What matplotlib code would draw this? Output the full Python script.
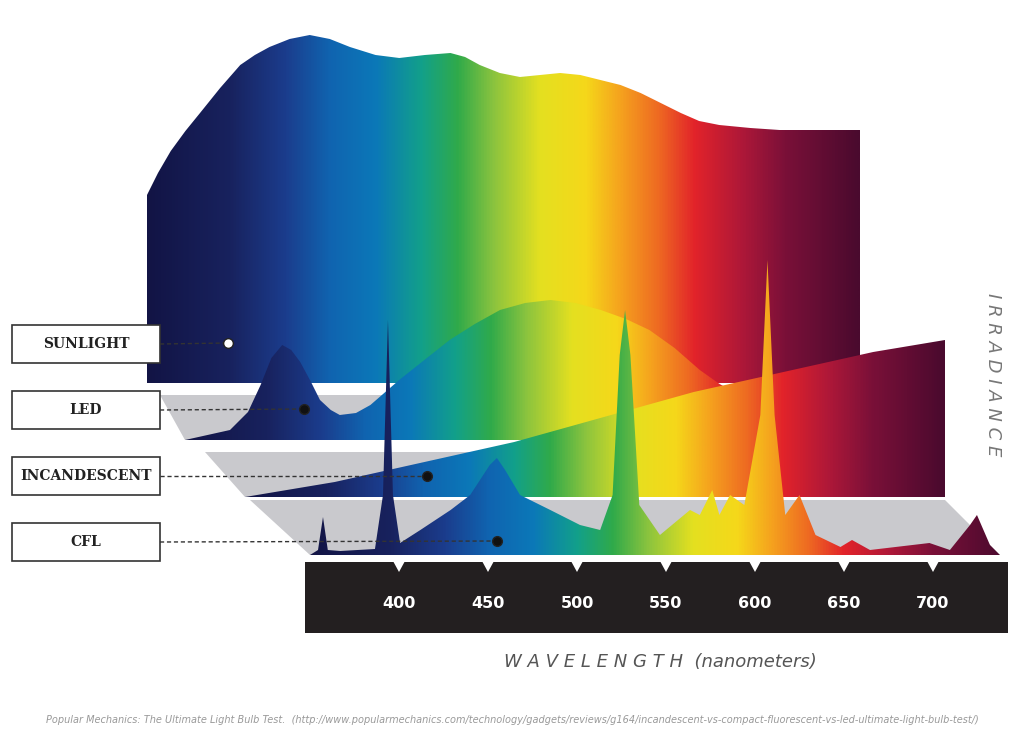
import numpy as np
import matplotlib
matplotlib.use('Agg')
import matplotlib.pyplot as plt
from matplotlib.colors import LinearSegmentedColormap
from matplotlib.patches import Polygon, Rectangle

# ── Data (wavelength nm, relative irradiance in px-height units) ──────────────
SUN_WL = [350, 356, 363, 371, 379, 390, 401, 409, 417, 428, 439, 450, 461, 475, 488, 502, 516,
          524, 532, 543, 554, 565, 576, 587, 598, 609, 620, 631, 642, 652, 663, 680, 696, 740]
SUN_H = [188, 210, 232, 252, 270, 295, 318, 328, 336, 344, 348, 344, 336, 328, 325, 328, 330,
         326, 318, 310, 306, 308, 310, 308, 303, 298, 290, 280, 270, 262, 258, 255, 253, 253]

LED_WL = [350, 375, 385, 392, 398, 404, 409, 414, 420, 425, 431, 436, 445, 453, 469, 483, 497,
          511, 525, 539, 553, 567, 581, 595, 608, 622, 636, 647, 658, 672, 686, 703]
LED_H = [0, 10, 28, 55, 82, 95, 90, 78, 58, 40, 30, 25, 27, 35, 60, 80, 100, 116, 130, 137, 140,
         137, 130, 121, 110, 92, 70, 56, 45, 26, 10, 0]

INC_WL = [350, 400, 450, 500, 550, 600, 650, 700, 740]
INC_H = [0, 15, 35, 55, 80, 105, 125, 145, 157]

CFL_WL = [350, 354.5, 357.3, 360, 367, 386.5, 391, 393.8, 396.6, 400.6, 412, 429, 440, 451,
          455, 459.6, 468, 485, 501.7, 513, 520, 524, 527, 530, 535, 546.6, 563.5, 569,
          576, 580, 586, 594, 603, 607, 611, 617, 625, 634, 648, 654.5, 664.6, 698,
          709.5, 720.8, 724.7, 732, 737.6]
CFL_H = [0, 5, 38, 5, 4, 6, 60, 235, 60, 12, 25, 45, 60, 90, 97, 85, 60, 45, 30, 25, 60,
         200, 245, 200, 50, 20, 45, 40, 65, 40, 60, 50, 140, 295, 140, 40, 60, 20, 8, 15,
         5, 12, 5, 30, 40, 10, 0]

TICKS = [400, 450, 500, 550, 600, 650, 700]
LABELS = ['SUNLIGHT', 'LED', 'INCANDESCENT', 'CFL']

# spectral colour ramp
STOPS = [(350, '#121445'), (395, '#18225e'), (425, '#1b3c8c'), (450, '#1064b0'),
         (475, '#0b78b8'), (500, '#12a08a'), (520, '#30aa4a'), (540, '#8cc43e'),
         (565, '#e4e020'), (590, '#f5d81a'), (610, '#f5a01e'), (630, '#ee6a22'),
         (650, '#e2232a'), (675, '#b01838'), (700, '#7a1038'), (740, '#4a0a2e')]
cmap = LinearSegmentedColormap.from_list(
    'spec', [((w - 350) / 390, c) for w, c in STOPS])

fig = plt.figure(figsize=(10.24, 7.36), dpi=100)
ax = fig.add_axes([0, 0, 1, 1])
ax.set_xlim(0, 1024)
ax.set_ylim(736, 0)
ax.axis('off')

grad = np.linspace(0, 1, 512).reshape(1, -1)


def draw_layer(wl, h, x0, scale, base, z):
    xs = [x0 + (w - 350) * scale for w in wl]
    ys = [base - v for v in h]
    pts = [(xs[0], base)] + list(zip(xs, ys)) + [(xs[-1], base)]
    poly = Polygon(pts, closed=True, facecolor='none', edgecolor='none', zorder=z)
    ax.add_patch(poly)
    x1 = x0 + 390 * scale
    im = ax.imshow(grad, cmap=cmap, aspect='auto', extent=(x0, x1, base, base - 360),
                   zorder=z, interpolation='bilinear')
    im.set_clip_path(poly)


def floor(pts, z):
    ax.add_patch(Polygon(pts, closed=True, facecolor='#c9c9cd', edgecolor='none', zorder=z))


# sunlight (back)
draw_layer(SUN_WL, SUN_H, 147, 713 / 390, 383, 1)
# LED
floor([(160, 395), (830, 395), (885, 440), (185, 440)], 2)
draw_layer(LED_WL, LED_H, 185, 1.8, 440, 3)
# incandescent
floor([(205, 452), (890, 452), (945, 497), (245, 497)], 4)
draw_layer(INC_WL, INC_H, 245, 700 / 390, 497, 5)
# CFL
floor([(250, 500), (945, 500), (1000, 555), (310, 555)], 6)
draw_layer(CFL_WL, CFL_H, 310, 1.78, 555, 7)

# wavelength bar
ax.add_patch(Rectangle((305, 562), 703, 71, facecolor='#231f20', zorder=8))
for t in TICKS:
    x = 310 + (t - 350) * 1.78
    ax.add_patch(Polygon([(x - 6, 561), (x + 6, 561), (x, 572)], closed=True,
                         facecolor='white', edgecolor='none', zorder=9))
    ax.text(x, 603, str(t), color='white', fontsize=11.5, ha='center', va='center',
            fontweight='bold', zorder=9)

ax.text(660, 662, 'W A V E L E N G T H  (nanometers)', fontsize=13, style='italic',
        color='#555555', ha='center', va='center')
ax.text(993, 375, 'I R R A D I A N C E', fontsize=13, style='italic', color='#777777',
        ha='center', va='center', rotation=-90)
ax.text(512, 720, 'Popular Mechanics: The Ultimate Light Bulb Test.  (http://www.popularmechanics.com/'
        'technology/gadgets/reviews/g164/incandescent-vs-compact-fluorescent-vs-led-ultimate-light-bulb-test/)',
        fontsize=7, style='italic', color='#999999', ha='center', va='center')

# labels with leaders
box_y = [344, 410, 476, 542]
dots = [(228, 343, 'white'), (304, 409, '#111111'), (427, 476, '#111111'), (497, 541, '#111111')]
for lab, y, (dx, dy, dc) in zip(LABELS, box_y, dots):
    ax.add_patch(Rectangle((12, y - 19), 148, 38, facecolor='white', edgecolor='#333333',
                           linewidth=1.2, zorder=10))
    ax.text(86, y, lab, fontsize=10, fontweight='bold', family='DejaVu Serif',
            ha='center', va='center', color='#222222', zorder=11)
    ax.plot([160, dx], [y, dy], linestyle=(0, (3, 2)), color='#333333', lw=1, zorder=10)
    ax.plot(dx, dy, 'o', markersize=7, markerfacecolor=dc, markeredgecolor='#222222',
            markeredgewidth=1, zorder=11)

fig.savefig('out.png', dpi=100)
